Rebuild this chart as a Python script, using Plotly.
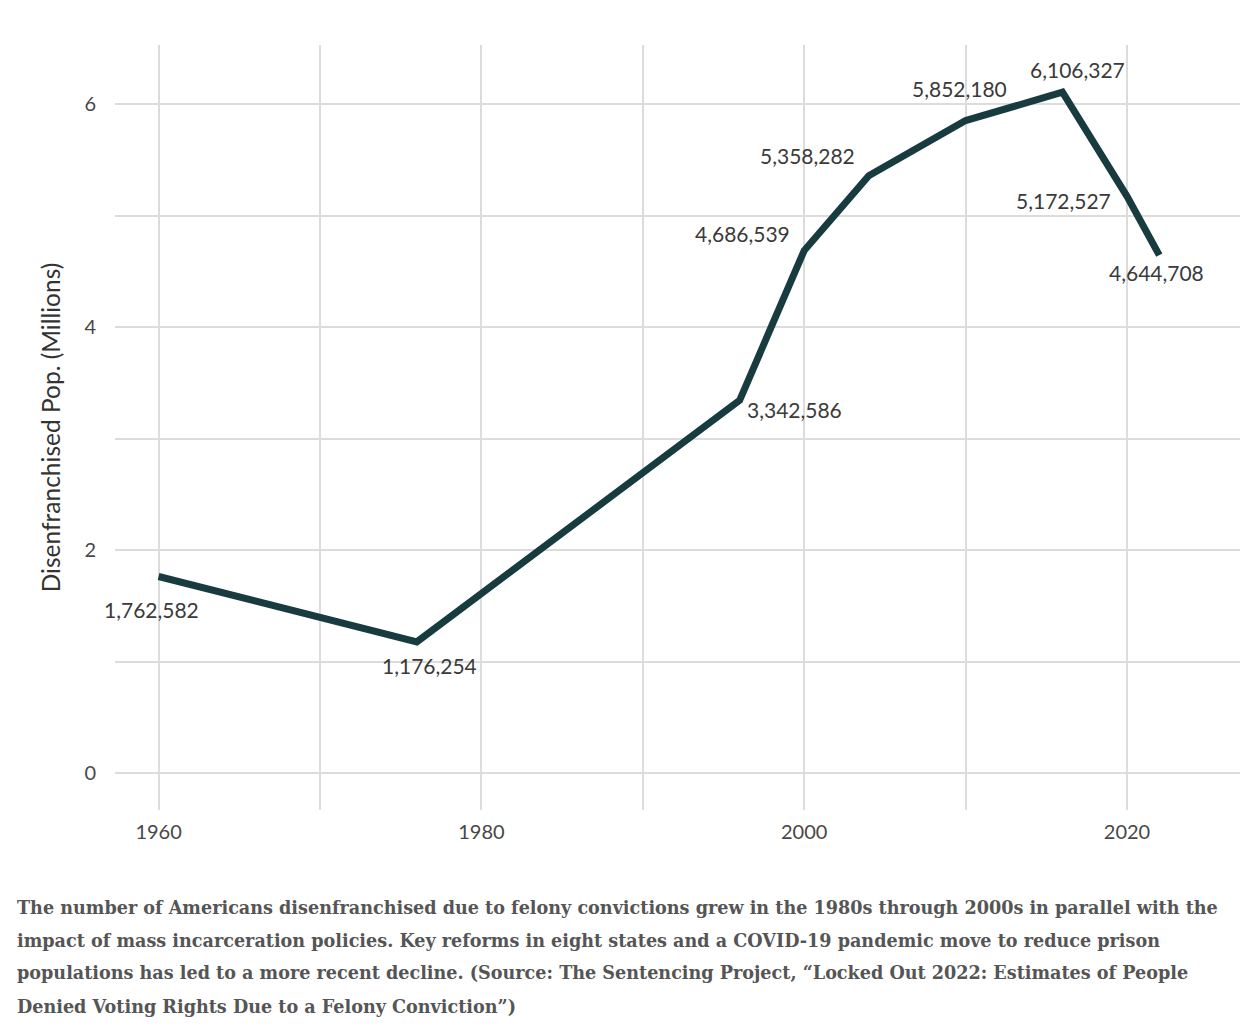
import plotly.graph_objects as go

years = [1960, 1976, 1996, 2000, 2004, 2010, 2016, 2020, 2022]
disenfranchised = [1762582, 1176254, 3342586, 4686539, 5358282, 5852180, 6106327, 5172527, 4644708]

x_ticks = [1960, 1980, 2000, 2020]
y_ticks = [0, 2, 4, 6]

y_title = "Disenfranchised Pop. (Millions)"

caption_lines = [
    "The number of Americans disenfranchised due to felony convictions grew in the 1980s through 2000s in parallel with the",
    "impact of mass incarceration policies. Key reforms in eight states and a COVID-19 pandemic move to reduce prison",
    "populations has led to a more recent decline. (Source: The Sentencing Project, \u201cLocked Out 2022: Estimates of People",
    "Denied Voting Rights Due to a Felony Conviction\u201d)",
]

# label pixel offsets (dx, dy) relative to each point
label_offsets = [(-7, -33), (13, -24), (55, -9), (-62, 17), (-61, 20), (-6, 32), (15, 23), (-64, -4), (-3, -17)]

W, H = 1258, 1036
OFF = 8  # page body margin
L, T = 115 - OFF, 45 - OFF
R = W - (1240 - OFF)
B = H - (810 - OFF)
plot_w = W - L - R
plot_h = H - T - B

millions = [v / 1e6 for v in disenfranchised]

fig = go.Figure()
fig.add_trace(go.Scatter(
    x=years, y=millions, mode="lines",
    line=dict(color="#183b3f", width=7),
    hoverinfo="skip", showlegend=False,
))

label_font = dict(family="Lato, sans-serif", size=21, color="#3a3a3a")
for yr, v, m, (dx, dy) in zip(years, disenfranchised, millions, label_offsets):
    fig.add_annotation(
        x=yr, y=m, xref="x", yref="y", text=f"{v:,}", showarrow=False,
        xshift=dx, yshift=dy, font=label_font, xanchor="center", yanchor="middle",
    )

cap_font = dict(family="'DejaVu Serif', serif", size=17.6, color="#555555")
cap_y = [907, 940, 973, 1006]
for line, py in zip(caption_lines, cap_y):
    fig.add_annotation(
        x=(15 - OFF - L) / plot_w, y=(H - B - (py - OFF)) / plot_h, xref="paper", yref="paper",
        text=f"<b>{line}</b>", showarrow=False, xanchor="left", yanchor="middle",
        font=cap_font,
    )

grid = "#dcdcdc"
fig.update_layout(
    width=W, height=H,
    margin=dict(l=L, r=R, t=T, b=B, autoexpand=False),
    plot_bgcolor="white", paper_bgcolor="white",
    font=dict(family="Lato, sans-serif", color="#474747"),
    xaxis=dict(
        range=[1957.3, 2027.0], tickmode="array", tickvals=x_ticks,
        ticktext=[str(t) for t in x_ticks],
        showgrid=True, gridcolor=grid, gridwidth=1.5, zeroline=False,
        showline=False, ticks="", ticklabelstandoff=8,
        tickfont=dict(size=20, color="#474747"),
        minor=dict(dtick=10, tick0=1960, showgrid=True, gridcolor=grid, gridwidth=1.5, ticks=""),
    ),
    yaxis=dict(
        range=[-0.332, 6.53], tickmode="array", tickvals=y_ticks,
        ticktext=[str(t) for t in y_ticks],
        showgrid=True, gridcolor=grid, gridwidth=1.5, zeroline=False,
        showline=False, ticks="", ticklabelstandoff=18,
        tickfont=dict(size=20, color="#474747"),
        minor=dict(dtick=1, tick0=0, showgrid=True, gridcolor=grid, gridwidth=1.5, ticks=""),
        title=dict(text=y_title, font=dict(size=24.5, color="#333333"), standoff=16),
    ),
)

fig.write_html("out.html")
